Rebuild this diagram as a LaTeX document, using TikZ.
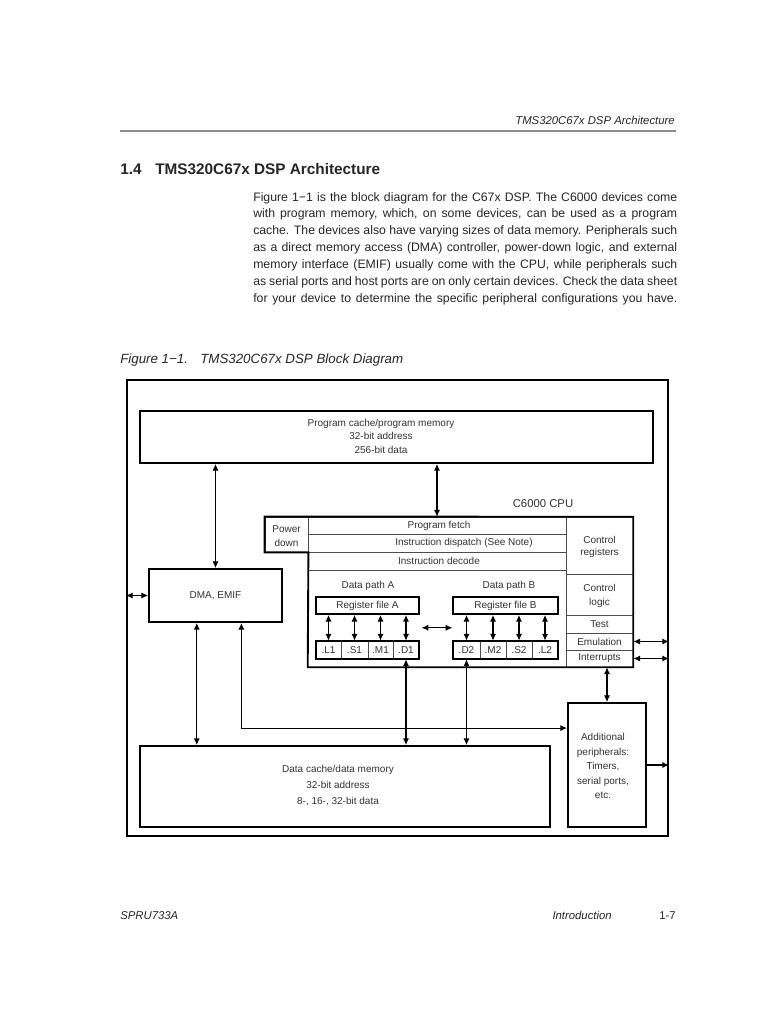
\documentclass[tikz,border=0pt]{standalone}
\usepackage{fontspec}
\setmainfont{Liberation Sans}
\usetikzlibrary{fit,calc,arrows.meta}
\newcommand\jline[1]{\makebox[318pt][s]{#1}}
\begin{document}
\begin{tikzpicture}[x=0.75pt,y=-0.75pt,
 >={Latex[length=5pt,width=4.6pt]},
 box/.style={draw=black, line width=1.4pt, inner sep=0pt},
 cell/.style={draw=black!70, line width=0.6pt, inner sep=0pt},
 lbl/.style={font=\fontsize{7.5}{9.5}\selectfont, text=black!80, align=center, inner sep=0pt},
 dbl/.style={<->, line width=0.8pt},
 sgl/.style={->, line width=0.8pt},
 pagetext/.style={inner sep=0pt, text=black!85},
]
\useasboundingbox (0,0) rectangle (768,1024);
\fill[white] (0,0) rectangle (768,1024);

% ---------- page header ----------
\node[pagetext, anchor=base east, font=\fontsize{8.5}{10}\selectfont\itshape] (hdr) at (675,124) {TMS320C67x DSP Architecture};
\draw[black!45, line width=1.3pt] (120,131) -- (676,131);
\node[pagetext, anchor=base west, font=\fontsize{11.5}{13}\selectfont\bfseries] (heading) at (120,174.5)
 {\makebox[26.25pt][l]{1.4}TMS320C67x DSP Architecture};

% ---------- paragraph ----------
\begin{scope}[every node/.style={pagetext, anchor=base west, font=\fontsize{9.2}{11}\selectfont}]
\node (p1) at (253,201) {\jline{Figure 1−1 is the block diagram for the C67x DSP. The C6000 devices come}};
\node (p2) at (253,217.9) {\jline{with program memory, which, on some devices, can be used as a program}};
\node (p3) at (253,234.8) {\jline{cache. The devices also have varying sizes of data memory. Peripherals such}};
\node (p4) at (253,251.7) {\jline{as a direct memory access (DMA) controller, power-down logic, and external}};
\node (p5) at (253,268.6) {\jline{memory interface (EMIF) usually come with the CPU, while peripherals such}};
\node (p6) at (253,285.5) {\jline{as serial ports and host ports are on only certain devices. Check the data sheet}};
\node (p7) at (253,302.4) {\jline{for your device to determine the specific peripheral configurations you have.}};
\end{scope}

% ---------- caption ----------
\node[pagetext, anchor=base west, font=\fontsize{10}{12}\selectfont\itshape] (caption) at (120,363)
 {\makebox[60pt][l]{Figure 1−1.}TMS320C67x DSP Block Diagram};

% ---------- diagram frame ----------
\node[box, fit={(127,380)(668,836)}] (frame) {};

% program memory
\node[box, fit={(140,411)(653,463)}] (pcache) {};
\node[lbl, font=\fontsize{7.5}{10.1}\selectfont] (pcachetxt) at (381,436) {Program cache/program memory\\32-bit address\\256-bit data};

% DMA
\node[box, fit={(149,569)(282,622)}] (dma) {};
\node[lbl] (dmatxt) at (215.5,595.5) {DMA, EMIF};

% CPU label
\node[lbl, font=\fontsize{8.5}{10}\selectfont] (cpulabel) at (543,504) {C6000 CPU};

% CPU cells
\node[cell, fit={(265,517)(308,552)}] (pd) {};
\node[lbl, font=\fontsize{7.5}{10.5}\selectfont] (pdtxt) at (286.5,536) {Power\\down};
\node[cell, fit={(308,517)(566,534)}] (fetch) {};
\node[cell, fit={(308,534)(566,552)}] (disp) {};
\node[cell, fit={(308,552)(566,570)}] (dec) {};
\node[lbl] (fetchtxt) at (439,525.5) {Program fetch};
\node[lbl] (disptxt) at (464,543) {Instruction dispatch (See Note)};
\node[lbl] (dectxt) at (439,561) {Instruction decode};
\node[cell, fit={(566,517)(633,574)}] (creg) {};
\node[cell, fit={(566,574)(633,615)}] (clog) {};
\node[cell, fit={(566,615)(633,633)}] (test) {};
\node[cell, fit={(566,633)(633,650)}] (emu) {};
\node[cell, fit={(566,650)(633,667)}] (intr) {};
\node[lbl] (cregtxt) at (599.5,547) {Control\\registers};
\node[lbl, font=\fontsize{7.5}{10.5}\selectfont] (clogtxt) at (599.5,596) {Control\\logic};
\node[lbl] (testtxt) at (599.5,624) {Test};
\node[lbl] (emutxt) at (599.5,641.5) {Emulation};
\node[lbl] (intrtxt) at (599.5,658.5) {Interrupts};
\node[inner sep=0pt, fit={(308,517)(633,667)}] (cpu) {};
\draw[line width=1.4pt, line join=miter]
 (pd.north west) -- (cpu.north east) -- (cpu.south east) -- (cpu.south west) -- (pd.south east) -- (pd.south west) -- cycle;

% data paths
\node[lbl] (dpa) at (368,586) {Data path A};
\node[lbl] (dpb) at (509,586) {Data path B};
\node[box, fit={(316,597)(419,614)}] (rega) {};
\node[lbl] (regatxt) at (rega) {Register file A};
\node[box, fit={(453,597)(558,614)}] (regb) {};
\node[lbl] (regbtxt) at (regb) {Register file B};

\node[cell, fit={(316,641)(341,659)}] (L1) {};
\node[cell, fit={(341,641)(368,659)}] (S1) {};
\node[cell, fit={(368,641)(393,659)}] (M1) {};
\node[cell, fit={(393,641)(419,659)}] (D1) {};
\node[lbl] at (L1) {.L1};
\node[lbl] at (S1) {.S1};
\node[lbl] at (M1) {.M1};
\node[lbl] at (D1) {.D1};
\draw[line width=1.4pt] (L1.north west) rectangle (D1.south east);

\node[cell, fit={(453,641)(480,659)}] (D2) {};
\node[cell, fit={(480,641)(506,659)}] (M2) {};
\node[cell, fit={(506,641)(532,659)}] (S2) {};
\node[cell, fit={(532,641)(558,659)}] (L2) {};
\node[lbl] at (D2) {.D2};
\node[lbl] at (M2) {.M2};
\node[lbl] at (S2) {.S2};
\node[lbl] at (L2) {.L2};
\draw[line width=1.4pt] (D2.north west) rectangle (L2.south east);

% register <-> unit arrows
\foreach \u in {L1,S1,M1,D1} \draw[dbl] (\u.north) -- (\u.north |- rega.south);
\foreach \u in {D2,M2,S2,L2} \draw[dbl] (\u.north) -- (\u.north |- regb.south);
\draw[dbl] ($(rega.south east)!0.5!(D1.north east)+(2,0)$) -- ($(regb.south west)!0.5!(D2.north west)$);

% data memory & peripherals
\node[box, fit={(140,746)(550,827)}] (dmem) {};
\node[lbl, font=\fontsize{7.5}{12}\selectfont] (dmemtxt) at (338,786) {Data cache/data memory\\32-bit address\\8-, 16-, 32-bit data};
\node[box, fit={(568,703)(646,827)}] (periph) {};
\node[lbl, font=\fontsize{7.5}{10.9}\selectfont] (periphtxt) at (603,766) {Additional\\peripherals:\\Timers,\\serial ports,\\etc.};

% connectors
\draw[dbl] (dma.north) -- (dma.north |- pcache.south);
\draw[dbl] (fetch.north) -- (fetch.north |- pcache.south);
\draw[dbl] (frame.west |- dma.west) -- (dma.west);
\coordinate (dmab1) at ($(dma.south west)!0.361!(dma.south east)$);
\coordinate (dmab2) at ($(dma.south west)!0.692!(dma.south east)$);
\coordinate (periphin) at ($(periph.north west)+(0,26)$);
\draw[dbl] (dmab1) -- (dmab1 |- dmem.north);
\draw[dbl] (dmab2) |- (periphin);
\draw[dbl] (D1.south) -- (D1.south |- dmem.north);
\draw[dbl] (D2.south) -- (D2.south |- dmem.north);
\draw[dbl] (periph.north) -- (periph.north |- intr.south);
\draw[dbl] (emu.east) -- (emu.east -| frame.east);
\draw[dbl] (intr.east) -- (intr.east -| frame.east);
\draw[sgl] (periph.east) -- (periph.east -| frame.east);

% ---------- footer ----------
\node[pagetext, anchor=base west, font=\fontsize{8.5}{10}\selectfont\itshape] (ftl) at (120,919) {SPRU733A};
\node[pagetext, anchor=base east, font=\fontsize{8.5}{10}\selectfont\itshape] (ftm) at (612,919) {Introduction};
\node[pagetext, anchor=base east, font=\fontsize{8.5}{10}\selectfont] (ftr) at (676,919) {1-7};
\end{tikzpicture}
\end{document}
